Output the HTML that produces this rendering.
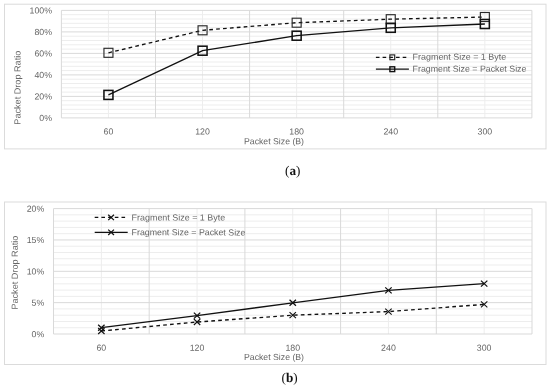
<!DOCTYPE html>
<html lang="en">
<head>
<meta charset="utf-8">
<title>Packet Drop Ratio charts</title>
<style>
html,body{margin:0;padding:0;background:#fff}
svg{display:block}
</style>
</head>
<body>
<svg width="550" height="387" viewBox="0 0 550 387" font-family='"Liberation Sans", Arial, sans-serif' fill="#666666" text-rendering="geometricPrecision">
<rect width="550" height="387" fill="#fff"/>
<rect x="4.5" y="4.2" width="541.5" height="144.7" fill="#fff" stroke="#dbdbdb" stroke-width="1"/>
<path d="M61.4 14.7H531.9M61.4 19H531.9M61.4 23.3H531.9M61.4 27.6H531.9M61.4 36.2H531.9M61.4 40.5H531.9M61.4 44.8H531.9M61.4 49.1H531.9M61.4 57.7H531.9M61.4 62H531.9M61.4 66.3H531.9M61.4 70.6H531.9M61.4 79.2H531.9M61.4 83.5H531.9M61.4 87.8H531.9M61.4 92.1H531.9M61.4 100.7H531.9M61.4 105H531.9M61.4 109.3H531.9M61.4 113.6H531.9" stroke="#ededed" stroke-width="1" fill="none"/>
<path d="M108.45 10.4V117.9M202.55 10.4V117.9M296.65 10.4V117.9M390.75 10.4V117.9M484.85 10.4V117.9" stroke="#ededed" stroke-width="1" fill="none"/>
<path d="M61.4 10.4H531.9M61.4 31.9H531.9M61.4 53.4H531.9M61.4 74.9H531.9M61.4 96.4H531.9M61.4 117.9H531.9M61.4 10.4V117.9M155.5 10.4V117.9M249.6 10.4V117.9M343.7 10.4V117.9M437.8 10.4V117.9M531.9 10.4V117.9" stroke="#d9d9d9" stroke-width="1" fill="none"/>
<text x="52" y="13.55" transform="rotate(0.05 52 13.55)" font-size="8.8" text-anchor="end">100%</text>
<text x="52" y="35.05" transform="rotate(0.05 52 35.05)" font-size="8.8" text-anchor="end">80%</text>
<text x="52" y="56.55" transform="rotate(0.05 52 56.55)" font-size="8.8" text-anchor="end">60%</text>
<text x="52" y="78.05" transform="rotate(0.05 52 78.05)" font-size="8.8" text-anchor="end">40%</text>
<text x="52" y="99.55" transform="rotate(0.05 52 99.55)" font-size="8.8" text-anchor="end">20%</text>
<text x="52" y="121.05" transform="rotate(0.05 52 121.05)" font-size="8.8" text-anchor="end">0%</text>
<text x="108.45" y="134.45" transform="rotate(0.05 108.45 134.45)" font-size="8.8" text-anchor="middle">60</text>
<text x="202.55" y="134.45" transform="rotate(0.05 202.55 134.45)" font-size="8.8" text-anchor="middle">120</text>
<text x="296.65" y="134.45" transform="rotate(0.05 296.65 134.45)" font-size="8.8" text-anchor="middle">180</text>
<text x="390.75" y="134.45" transform="rotate(0.05 390.75 134.45)" font-size="8.8" text-anchor="middle">240</text>
<text x="484.85" y="134.45" transform="rotate(0.05 484.85 134.45)" font-size="8.8" text-anchor="middle">300</text>
<text x="244" y="144.2" transform="rotate(0.05 244 144.2)" font-size="8.8" text-anchor="start" textLength="60" lengthAdjust="spacingAndGlyphs">Packet Size (B)</text>
<text transform="translate(20.6 124.7) rotate(-90.05)" font-size="8.8" textLength="74" lengthAdjust="spacingAndGlyphs">Packet Drop Ratio</text>
<polyline points="108.45,52.8 202.55,30.3 296.65,22.7 390.75,19.2 484.85,17" fill="none" stroke="#111" stroke-width="1.35" stroke-dasharray="3.7 3.2"/>
<rect x="103.95" y="48.3" width="9" height="9" fill="none" stroke="#2a2a2a" stroke-width="1.15"/>
<rect x="198.05" y="25.8" width="9" height="9" fill="none" stroke="#2a2a2a" stroke-width="1.15"/>
<rect x="292.15" y="18.2" width="9" height="9" fill="none" stroke="#2a2a2a" stroke-width="1.15"/>
<rect x="386.25" y="14.7" width="9" height="9" fill="none" stroke="#2a2a2a" stroke-width="1.15"/>
<rect x="480.35" y="12.5" width="9" height="9" fill="none" stroke="#2a2a2a" stroke-width="1.15"/>
<polyline points="108.45,94.9 202.55,50.7 296.65,35.7 390.75,27.8 484.85,24" fill="none" stroke="#111" stroke-width="1.35"/>
<rect x="103.95" y="90.4" width="9" height="9" fill="none" stroke="#111" stroke-width="1.55"/>
<rect x="198.05" y="46.2" width="9" height="9" fill="none" stroke="#111" stroke-width="1.55"/>
<rect x="292.15" y="31.2" width="9" height="9" fill="none" stroke="#111" stroke-width="1.55"/>
<rect x="386.25" y="23.3" width="9" height="9" fill="none" stroke="#111" stroke-width="1.55"/>
<rect x="480.35" y="19.5" width="9" height="9" fill="none" stroke="#111" stroke-width="1.55"/>
<path d="M375.9 57.3H407" fill="none" stroke="#111" stroke-width="1.25" stroke-dasharray="3.6 3.1"/>
<rect x="389.9" y="54.9" width="4.8" height="4.8" fill="none" stroke="#2a2a2a" stroke-width="1.2"/>
<text x="412.6" y="59.7" transform="rotate(0.05 412.6 59.7)" font-size="8.8" text-anchor="start" textLength="93.6" lengthAdjust="spacingAndGlyphs">Fragment Size = 1 Byte</text>
<path d="M375.9 69.2H408.9" fill="none" stroke="#111" stroke-width="1.25"/>
<rect x="389.9" y="66.8" width="4.8" height="4.8" fill="none" stroke="#111" stroke-width="1.4"/>
<text x="412.6" y="71.7" transform="rotate(0.05 412.6 71.7)" font-size="8.8" text-anchor="start" textLength="113.8" lengthAdjust="spacingAndGlyphs">Fragment Size = Packet Size</text>
<rect x="4.5" y="202" width="541.5" height="162.5" fill="#fff" stroke="#dbdbdb" stroke-width="1"/>
<path d="M53.5 214.87H532M53.5 221.14H532M53.5 227.41H532M53.5 233.68H532M53.5 246.22H532M53.5 252.49H532M53.5 258.76H532M53.5 265.03H532M53.5 277.57H532M53.5 283.84H532M53.5 290.11H532M53.5 296.38H532M53.5 308.92H532M53.5 315.19H532M53.5 321.46H532M53.5 327.73H532" stroke="#ededed" stroke-width="1" fill="none"/>
<path d="M101.35 208.6V334M197.05 208.6V334M292.75 208.6V334M388.45 208.6V334M484.15 208.6V334" stroke="#ededed" stroke-width="1" fill="none"/>
<path d="M53.5 208.6H532M53.5 239.95H532M53.5 271.3H532M53.5 302.65H532M53.5 334H532M53.5 208.6V334M149.2 208.6V334M244.9 208.6V334M340.6 208.6V334M436.3 208.6V334M532 208.6V334" stroke="#d9d9d9" stroke-width="1" fill="none"/>
<text x="44.3" y="211.75" transform="rotate(0.05 44.3 211.75)" font-size="8.8" text-anchor="end">20%</text>
<text x="44.3" y="243.1" transform="rotate(0.05 44.3 243.1)" font-size="8.8" text-anchor="end">15%</text>
<text x="44.3" y="274.45" transform="rotate(0.05 44.3 274.45)" font-size="8.8" text-anchor="end">10%</text>
<text x="44.3" y="305.8" transform="rotate(0.05 44.3 305.8)" font-size="8.8" text-anchor="end">5%</text>
<text x="44.3" y="337.15" transform="rotate(0.05 44.3 337.15)" font-size="8.8" text-anchor="end">0%</text>
<text x="101.35" y="350.75" transform="rotate(0.05 101.35 350.75)" font-size="8.8" text-anchor="middle">60</text>
<text x="197.05" y="350.75" transform="rotate(0.05 197.05 350.75)" font-size="8.8" text-anchor="middle">120</text>
<text x="292.75" y="350.75" transform="rotate(0.05 292.75 350.75)" font-size="8.8" text-anchor="middle">180</text>
<text x="388.45" y="350.75" transform="rotate(0.05 388.45 350.75)" font-size="8.8" text-anchor="middle">240</text>
<text x="484.15" y="350.75" transform="rotate(0.05 484.15 350.75)" font-size="8.8" text-anchor="middle">300</text>
<text x="244" y="360" transform="rotate(0.05 244 360)" font-size="8.8" text-anchor="start" textLength="60" lengthAdjust="spacingAndGlyphs">Packet Size (B)</text>
<text transform="translate(17.8 309.6) rotate(-90.05)" font-size="8.8" textLength="74" lengthAdjust="spacingAndGlyphs">Packet Drop Ratio</text>
<polyline points="101.35,331 197.05,322 292.75,315.2 388.45,311.6 484.15,304.4" fill="none" stroke="#111" stroke-width="1.35" stroke-dasharray="3.7 3.2"/>
<path d="M98.15 328L104.55 334M98.15 334L104.55 328" fill="none" stroke="#111" stroke-width="1.1"/>
<path d="M193.85 319L200.25 325M193.85 325L200.25 319" fill="none" stroke="#111" stroke-width="1.1"/>
<path d="M289.55 312.2L295.95 318.2M289.55 318.2L295.95 312.2" fill="none" stroke="#111" stroke-width="1.1"/>
<path d="M385.25 308.6L391.65 314.6M385.25 314.6L391.65 308.6" fill="none" stroke="#111" stroke-width="1.1"/>
<path d="M480.95 301.4L487.35 307.4M480.95 307.4L487.35 301.4" fill="none" stroke="#111" stroke-width="1.1"/>
<polyline points="101.35,327.7 197.05,315.6 292.75,302.8 388.45,290.4 484.15,283.6" fill="none" stroke="#111" stroke-width="1.35"/>
<path d="M98.15 324.7L104.55 330.7M98.15 330.7L104.55 324.7" fill="none" stroke="#111" stroke-width="1.3"/>
<path d="M193.85 312.6L200.25 318.6M193.85 318.6L200.25 312.6" fill="none" stroke="#111" stroke-width="1.3"/>
<path d="M289.55 299.8L295.95 305.8M289.55 305.8L295.95 299.8" fill="none" stroke="#111" stroke-width="1.3"/>
<path d="M385.25 287.4L391.65 293.4M385.25 293.4L391.65 287.4" fill="none" stroke="#111" stroke-width="1.3"/>
<path d="M480.95 280.6L487.35 286.6M480.95 286.6L487.35 280.6" fill="none" stroke="#111" stroke-width="1.3"/>
<path d="M94.7 217.4H125.5" fill="none" stroke="#111" stroke-width="1.25" stroke-dasharray="3.6 3.1"/>
<path d="M108.22 214.7L113.98 220.1M108.22 220.1L113.98 214.7" fill="none" stroke="#111" stroke-width="1.25"/>
<text x="131.6" y="220.5" transform="rotate(0.05 131.6 220.5)" font-size="8.8" text-anchor="start" textLength="93.6" lengthAdjust="spacingAndGlyphs">Fragment Size = 1 Byte</text>
<path d="M94.7 232.3H127.7" fill="none" stroke="#111" stroke-width="1.25"/>
<path d="M108.22 229.6L113.98 235M108.22 235L113.98 229.6" fill="none" stroke="#111" stroke-width="1.25"/>
<text x="131.6" y="235.3" transform="rotate(0.05 131.6 235.3)" font-size="8.8" text-anchor="start" textLength="113.8" lengthAdjust="spacingAndGlyphs">Fragment Size = Packet Size</text>
<text x="292.8" y="175" font-size="13.2" text-anchor="middle" fill="#111" font-family='"Liberation Serif", "Times New Roman", serif'>(<tspan font-weight="bold">a</tspan>)</text>
<text x="289.6" y="382.3" font-size="13.2" text-anchor="middle" fill="#111" font-family='"Liberation Serif", "Times New Roman", serif'>(<tspan font-weight="bold">b</tspan>)</text>
</svg>
</body>
</html>
